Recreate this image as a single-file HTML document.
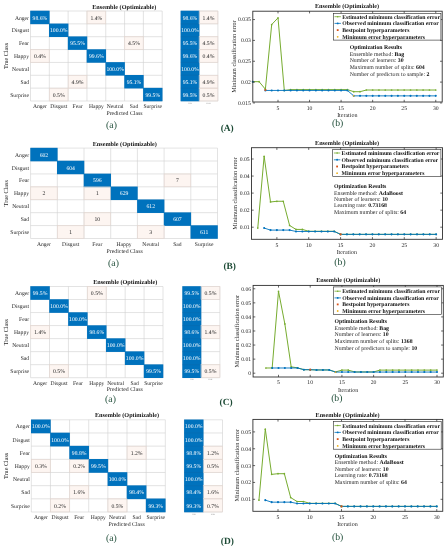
<!DOCTYPE html>
<html lang="en"><head><meta charset="utf-8"><title>Ensemble (Optimizable) results</title>
<style>
html,body{margin:0;padding:0;background:#fff;}
body{width:446px;height:550px;overflow:hidden;font-family:"Liberation Serif","Times New Roman",serif;}
svg{display:block;}
svg text{text-rendering:geometricPrecision;font-family:"Liberation Serif","Times New Roman",serif;}
</style></head><body>
<svg width="446" height="550" viewBox="0 0 446 550">
<rect x="0" y="0" width="446" height="550" fill="#ffffff"/>
<rect x="30.50" y="11.00" width="131.70" height="90.00" fill="#ffffff"/>
<rect x="86.94" y="11.00" width="18.81" height="12.86" fill="#fdf5f1"/>
<rect x="124.57" y="36.71" width="18.81" height="12.86" fill="#fdf5f1"/>
<rect x="30.50" y="49.57" width="18.81" height="12.86" fill="#fdf5f1"/>
<rect x="68.13" y="75.29" width="18.81" height="12.86" fill="#fdf5f1"/>
<rect x="49.31" y="88.14" width="18.81" height="12.86" fill="#fdf5f1"/>
<line x1="30.50" y1="11.00" x2="30.50" y2="101.00" stroke="#d0d0d0" stroke-width="0.6"/>
<line x1="30.50" y1="11.00" x2="162.20" y2="11.00" stroke="#d0d0d0" stroke-width="0.6"/>
<line x1="49.31" y1="11.00" x2="49.31" y2="101.00" stroke="#d0d0d0" stroke-width="0.6"/>
<line x1="30.50" y1="23.86" x2="162.20" y2="23.86" stroke="#d0d0d0" stroke-width="0.6"/>
<line x1="68.13" y1="11.00" x2="68.13" y2="101.00" stroke="#d0d0d0" stroke-width="0.6"/>
<line x1="30.50" y1="36.71" x2="162.20" y2="36.71" stroke="#d0d0d0" stroke-width="0.6"/>
<line x1="86.94" y1="11.00" x2="86.94" y2="101.00" stroke="#d0d0d0" stroke-width="0.6"/>
<line x1="30.50" y1="49.57" x2="162.20" y2="49.57" stroke="#d0d0d0" stroke-width="0.6"/>
<line x1="105.76" y1="11.00" x2="105.76" y2="101.00" stroke="#d0d0d0" stroke-width="0.6"/>
<line x1="30.50" y1="62.43" x2="162.20" y2="62.43" stroke="#d0d0d0" stroke-width="0.6"/>
<line x1="124.57" y1="11.00" x2="124.57" y2="101.00" stroke="#d0d0d0" stroke-width="0.6"/>
<line x1="30.50" y1="75.29" x2="162.20" y2="75.29" stroke="#d0d0d0" stroke-width="0.6"/>
<line x1="143.39" y1="11.00" x2="143.39" y2="101.00" stroke="#d0d0d0" stroke-width="0.6"/>
<line x1="30.50" y1="88.14" x2="162.20" y2="88.14" stroke="#d0d0d0" stroke-width="0.6"/>
<line x1="162.20" y1="11.00" x2="162.20" y2="101.00" stroke="#d0d0d0" stroke-width="0.6"/>
<line x1="30.50" y1="101.00" x2="162.20" y2="101.00" stroke="#d0d0d0" stroke-width="0.6"/>
<rect x="30.20" y="10.70" width="19.41" height="13.46" fill="#0072bd"/>
<rect x="49.01" y="23.56" width="19.41" height="13.46" fill="#0072bd"/>
<rect x="67.83" y="36.41" width="19.41" height="13.46" fill="#0072bd"/>
<rect x="86.64" y="49.27" width="19.41" height="13.46" fill="#0072bd"/>
<rect x="105.46" y="62.13" width="19.41" height="13.46" fill="#0072bd"/>
<rect x="124.27" y="74.99" width="19.41" height="13.46" fill="#0072bd"/>
<rect x="143.09" y="87.84" width="19.41" height="13.46" fill="#0072bd"/>
<rect x="86.94" y="11.00" width="18.81" height="12.86" fill="none" stroke="#e8d8d0" stroke-width="0.5"/>
<rect x="124.57" y="36.71" width="18.81" height="12.86" fill="none" stroke="#e8d8d0" stroke-width="0.5"/>
<rect x="30.50" y="49.57" width="18.81" height="12.86" fill="none" stroke="#e8d8d0" stroke-width="0.5"/>
<rect x="68.13" y="75.29" width="18.81" height="12.86" fill="none" stroke="#e8d8d0" stroke-width="0.5"/>
<rect x="49.31" y="88.14" width="18.81" height="12.86" fill="none" stroke="#e8d8d0" stroke-width="0.5"/>
<text x="39.91" y="19.53" font-size="5.7" text-anchor="middle" fill="#ffffff">98.6%</text>
<text x="96.35" y="19.53" font-size="5.7" text-anchor="middle" fill="#262626">1.4%</text>
<text x="58.72" y="32.39" font-size="5.7" text-anchor="middle" fill="#ffffff">100.0%</text>
<text x="77.54" y="45.24" font-size="5.7" text-anchor="middle" fill="#ffffff">95.5%</text>
<text x="133.98" y="45.24" font-size="5.7" text-anchor="middle" fill="#262626">4.5%</text>
<text x="39.91" y="58.10" font-size="5.7" text-anchor="middle" fill="#262626">0.4%</text>
<text x="96.35" y="58.10" font-size="5.7" text-anchor="middle" fill="#ffffff">99.6%</text>
<text x="115.16" y="70.96" font-size="5.7" text-anchor="middle" fill="#ffffff">100.0%</text>
<text x="77.54" y="83.81" font-size="5.7" text-anchor="middle" fill="#262626">4.9%</text>
<text x="133.98" y="83.81" font-size="5.7" text-anchor="middle" fill="#ffffff">95.1%</text>
<text x="58.72" y="96.67" font-size="5.7" text-anchor="middle" fill="#262626">0.5%</text>
<text x="152.79" y="96.67" font-size="5.7" text-anchor="middle" fill="#ffffff">99.5%</text>
<text x="29.00" y="19.53" font-size="5.65" text-anchor="end" fill="#262626">Anger</text>
<text x="39.91" y="108.40" font-size="5.6" text-anchor="middle" fill="#262626">Anger</text>
<text x="29.00" y="32.39" font-size="5.65" text-anchor="end" fill="#262626">Disgust</text>
<text x="58.72" y="108.40" font-size="5.6" text-anchor="middle" fill="#262626">Disgust</text>
<text x="29.00" y="45.24" font-size="5.65" text-anchor="end" fill="#262626">Fear</text>
<text x="77.54" y="108.40" font-size="5.6" text-anchor="middle" fill="#262626">Fear</text>
<text x="29.00" y="58.10" font-size="5.65" text-anchor="end" fill="#262626">Happy</text>
<text x="96.35" y="108.40" font-size="5.6" text-anchor="middle" fill="#262626">Happy</text>
<text x="29.00" y="70.96" font-size="5.65" text-anchor="end" fill="#262626">Neutral</text>
<text x="115.16" y="108.40" font-size="5.6" text-anchor="middle" fill="#262626">Neutral</text>
<text x="29.00" y="83.81" font-size="5.65" text-anchor="end" fill="#262626">Sad</text>
<text x="133.98" y="108.40" font-size="5.6" text-anchor="middle" fill="#262626">Sad</text>
<text x="29.00" y="96.67" font-size="5.65" text-anchor="end" fill="#262626">Surprise</text>
<text x="152.79" y="108.40" font-size="5.6" text-anchor="middle" fill="#262626">Surprise</text>
<text x="124.30" y="8.50" font-size="6.2" text-anchor="middle" font-weight="bold" fill="#111111">Ensemble (Optimizable)</text>
<text x="124.50" y="115.30" font-size="5.85" text-anchor="middle" fill="#262626">Predicted Class</text>
<text transform="translate(8.3,56.00) rotate(-90)" font-size="6.15" text-anchor="middle" fill="#262626">True Class</text>
<text x="111.50" y="127.85" font-size="9.7" text-anchor="middle" fill="#1c4a35">(a)</text>
<rect x="199.10" y="11.00" width="18.80" height="12.86" fill="#fdf5f1"/>
<rect x="199.10" y="23.86" width="18.80" height="12.86" fill="#ffffff"/>
<rect x="199.10" y="36.71" width="18.80" height="12.86" fill="#fdf5f1"/>
<rect x="199.10" y="49.57" width="18.80" height="12.86" fill="#fdf5f1"/>
<rect x="199.10" y="62.43" width="18.80" height="12.86" fill="#ffffff"/>
<rect x="199.10" y="75.29" width="18.80" height="12.86" fill="#fdf5f1"/>
<rect x="199.10" y="88.14" width="18.80" height="12.86" fill="#fdf5f1"/>
<line x1="180.90" y1="11.00" x2="217.90" y2="11.00" stroke="#d0d0d0" stroke-width="0.6"/>
<line x1="180.90" y1="23.86" x2="217.90" y2="23.86" stroke="#d0d0d0" stroke-width="0.6"/>
<line x1="180.90" y1="36.71" x2="217.90" y2="36.71" stroke="#d0d0d0" stroke-width="0.6"/>
<line x1="180.90" y1="49.57" x2="217.90" y2="49.57" stroke="#d0d0d0" stroke-width="0.6"/>
<line x1="180.90" y1="62.43" x2="217.90" y2="62.43" stroke="#d0d0d0" stroke-width="0.6"/>
<line x1="180.90" y1="75.29" x2="217.90" y2="75.29" stroke="#d0d0d0" stroke-width="0.6"/>
<line x1="180.90" y1="88.14" x2="217.90" y2="88.14" stroke="#d0d0d0" stroke-width="0.6"/>
<line x1="180.90" y1="101.00" x2="217.90" y2="101.00" stroke="#d0d0d0" stroke-width="0.6"/>
<line x1="180.90" y1="11.00" x2="180.90" y2="101.00" stroke="#d0d0d0" stroke-width="0.6"/>
<line x1="199.10" y1="11.00" x2="199.10" y2="101.00" stroke="#d0d0d0" stroke-width="0.6"/>
<line x1="217.90" y1="11.00" x2="217.90" y2="101.00" stroke="#d0d0d0" stroke-width="0.6"/>
<rect x="180.60" y="10.70" width="18.80" height="90.60" fill="#0072bd"/>
<line x1="180.90" y1="23.86" x2="199.10" y2="23.86" stroke="#0a67a8" stroke-width="0.4"/>
<line x1="180.90" y1="36.71" x2="199.10" y2="36.71" stroke="#0a67a8" stroke-width="0.4"/>
<line x1="180.90" y1="49.57" x2="199.10" y2="49.57" stroke="#0a67a8" stroke-width="0.4"/>
<line x1="180.90" y1="62.43" x2="199.10" y2="62.43" stroke="#0a67a8" stroke-width="0.4"/>
<line x1="180.90" y1="75.29" x2="199.10" y2="75.29" stroke="#0a67a8" stroke-width="0.4"/>
<line x1="180.90" y1="88.14" x2="199.10" y2="88.14" stroke="#0a67a8" stroke-width="0.4"/>
<rect x="199.10" y="11.00" width="18.80" height="12.86" fill="none" stroke="#e8d8d0" stroke-width="0.5"/>
<rect x="199.10" y="36.71" width="18.80" height="12.86" fill="none" stroke="#e8d8d0" stroke-width="0.5"/>
<rect x="199.10" y="49.57" width="18.80" height="12.86" fill="none" stroke="#e8d8d0" stroke-width="0.5"/>
<rect x="199.10" y="75.29" width="18.80" height="12.86" fill="none" stroke="#e8d8d0" stroke-width="0.5"/>
<rect x="199.10" y="88.14" width="18.80" height="12.86" fill="none" stroke="#e8d8d0" stroke-width="0.5"/>
<text x="190.00" y="19.53" font-size="5.7" text-anchor="middle" fill="#ffffff">98.6%</text>
<text x="208.50" y="19.53" font-size="5.7" text-anchor="middle" fill="#262626">1.4%</text>
<text x="190.00" y="32.39" font-size="5.7" text-anchor="middle" fill="#ffffff">100.0%</text>
<text x="190.00" y="45.24" font-size="5.7" text-anchor="middle" fill="#ffffff">95.5%</text>
<text x="208.50" y="45.24" font-size="5.7" text-anchor="middle" fill="#262626">4.5%</text>
<text x="190.00" y="58.10" font-size="5.7" text-anchor="middle" fill="#ffffff">99.6%</text>
<text x="208.50" y="58.10" font-size="5.7" text-anchor="middle" fill="#262626">0.4%</text>
<text x="190.00" y="70.96" font-size="5.7" text-anchor="middle" fill="#ffffff">100.0%</text>
<text x="190.00" y="83.81" font-size="5.7" text-anchor="middle" fill="#ffffff">95.1%</text>
<text x="208.50" y="83.81" font-size="5.7" text-anchor="middle" fill="#262626">4.9%</text>
<text x="190.00" y="96.67" font-size="5.7" text-anchor="middle" fill="#ffffff">99.5%</text>
<text x="208.50" y="96.67" font-size="5.7" text-anchor="middle" fill="#262626">0.5%</text>
<text x="190.00" y="103.60" font-size="2.1" text-anchor="middle" fill="#777777">TPR</text>
<text x="208.50" y="103.60" font-size="2.1" text-anchor="middle" fill="#777777">FNR</text>
<rect x="252.80" y="11.20" width="189.40" height="90.80" fill="#ffffff"/>
<polyline points="252.76,81.68 259.07,81.68 265.38,89.19 271.69,24.55 278.00,17.88 284.31,90.44 290.62,89.61 296.93,89.61 303.24,89.61 309.55,89.61 315.86,89.61 322.17,89.61 328.48,89.61 334.79,89.61 341.10,89.61 347.41,89.61 353.72,91.69 360.03,91.69 366.34,90.02 372.65,90.02 378.96,90.02 385.27,90.02 391.58,90.02 397.89,90.02 404.20,90.02 410.51,90.02 416.82,90.02 423.13,90.02 429.44,90.02 435.75,90.02" fill="none" stroke="#77ac30" stroke-width="1.0" stroke-linejoin="round"/>
<circle cx="252.76" cy="81.68" r="0.85" fill="#77ac30"/>
<circle cx="259.07" cy="81.68" r="0.85" fill="#77ac30"/>
<circle cx="265.38" cy="89.19" r="0.85" fill="#77ac30"/>
<circle cx="271.69" cy="24.55" r="0.85" fill="#77ac30"/>
<circle cx="278.00" cy="17.88" r="0.85" fill="#77ac30"/>
<circle cx="284.31" cy="90.44" r="0.85" fill="#77ac30"/>
<circle cx="290.62" cy="89.61" r="0.85" fill="#77ac30"/>
<circle cx="296.93" cy="89.61" r="0.85" fill="#77ac30"/>
<circle cx="303.24" cy="89.61" r="0.85" fill="#77ac30"/>
<circle cx="309.55" cy="89.61" r="0.85" fill="#77ac30"/>
<circle cx="315.86" cy="89.61" r="0.85" fill="#77ac30"/>
<circle cx="322.17" cy="89.61" r="0.85" fill="#77ac30"/>
<circle cx="328.48" cy="89.61" r="0.85" fill="#77ac30"/>
<circle cx="334.79" cy="89.61" r="0.85" fill="#77ac30"/>
<circle cx="341.10" cy="89.61" r="0.85" fill="#77ac30"/>
<circle cx="347.41" cy="89.61" r="0.85" fill="#77ac30"/>
<circle cx="353.72" cy="91.69" r="0.85" fill="#77ac30"/>
<circle cx="360.03" cy="91.69" r="0.85" fill="#77ac30"/>
<circle cx="366.34" cy="90.02" r="0.85" fill="#77ac30"/>
<circle cx="372.65" cy="90.02" r="0.85" fill="#77ac30"/>
<circle cx="378.96" cy="90.02" r="0.85" fill="#77ac30"/>
<circle cx="385.27" cy="90.02" r="0.85" fill="#77ac30"/>
<circle cx="391.58" cy="90.02" r="0.85" fill="#77ac30"/>
<circle cx="397.89" cy="90.02" r="0.85" fill="#77ac30"/>
<circle cx="404.20" cy="90.02" r="0.85" fill="#77ac30"/>
<circle cx="410.51" cy="90.02" r="0.85" fill="#77ac30"/>
<circle cx="416.82" cy="90.02" r="0.85" fill="#77ac30"/>
<circle cx="423.13" cy="90.02" r="0.85" fill="#77ac30"/>
<circle cx="429.44" cy="90.02" r="0.85" fill="#77ac30"/>
<circle cx="435.75" cy="90.02" r="0.85" fill="#77ac30"/>
<polyline points="252.76,81.68" fill="none" stroke="#0072bd" stroke-width="0.9" stroke-linejoin="round"/>
<circle cx="252.76" cy="81.68" r="1.05" fill="#0072bd"/>
<polyline points="265.38,90.44 271.69,90.44 278.00,90.44 284.31,90.44 290.62,90.44 296.93,90.44 303.24,90.44 309.55,90.44 315.86,90.44 322.17,90.44 328.48,90.44 334.79,90.44 341.10,90.44 347.41,90.44 353.72,95.86 360.03,95.86 366.34,95.86 372.65,95.86 378.96,95.86 385.27,95.86 391.58,95.86 397.89,95.86 404.20,95.86 410.51,95.86 416.82,95.86 423.13,95.86 429.44,95.86 435.75,95.86" fill="none" stroke="#0072bd" stroke-width="0.9" stroke-linejoin="round"/>
<circle cx="265.38" cy="90.44" r="1.05" fill="#0072bd"/>
<circle cx="271.69" cy="90.44" r="1.05" fill="#0072bd"/>
<circle cx="278.00" cy="90.44" r="1.05" fill="#0072bd"/>
<circle cx="284.31" cy="90.44" r="1.05" fill="#0072bd"/>
<circle cx="290.62" cy="90.44" r="1.05" fill="#0072bd"/>
<circle cx="296.93" cy="90.44" r="1.05" fill="#0072bd"/>
<circle cx="303.24" cy="90.44" r="1.05" fill="#0072bd"/>
<circle cx="309.55" cy="90.44" r="1.05" fill="#0072bd"/>
<circle cx="315.86" cy="90.44" r="1.05" fill="#0072bd"/>
<circle cx="322.17" cy="90.44" r="1.05" fill="#0072bd"/>
<circle cx="328.48" cy="90.44" r="1.05" fill="#0072bd"/>
<circle cx="334.79" cy="90.44" r="1.05" fill="#0072bd"/>
<circle cx="341.10" cy="90.44" r="1.05" fill="#0072bd"/>
<circle cx="347.41" cy="90.44" r="1.05" fill="#0072bd"/>
<circle cx="353.72" cy="95.86" r="1.05" fill="#0072bd"/>
<circle cx="360.03" cy="95.86" r="1.05" fill="#0072bd"/>
<circle cx="366.34" cy="95.86" r="1.05" fill="#0072bd"/>
<circle cx="372.65" cy="95.86" r="1.05" fill="#0072bd"/>
<circle cx="378.96" cy="95.86" r="1.05" fill="#0072bd"/>
<circle cx="385.27" cy="95.86" r="1.05" fill="#0072bd"/>
<circle cx="391.58" cy="95.86" r="1.05" fill="#0072bd"/>
<circle cx="397.89" cy="95.86" r="1.05" fill="#0072bd"/>
<circle cx="404.20" cy="95.86" r="1.05" fill="#0072bd"/>
<circle cx="410.51" cy="95.86" r="1.05" fill="#0072bd"/>
<circle cx="416.82" cy="95.86" r="1.05" fill="#0072bd"/>
<circle cx="423.13" cy="95.86" r="1.05" fill="#0072bd"/>
<circle cx="429.44" cy="95.86" r="1.05" fill="#0072bd"/>
<circle cx="435.75" cy="95.86" r="1.05" fill="#0072bd"/>
<circle cx="353.72" cy="95.86" r="0.9" fill="#edb120"/>
<rect x="264.48" y="89.12" width="1.80" height="1.80" fill="#d95319"/>
<rect x="252.80" y="11.20" width="189.40" height="90.80" fill="none" stroke="#303030" stroke-width="0.9"/>
<line x1="278.00" y1="102.00" x2="278.00" y2="99.80" stroke="#262626" stroke-width="0.7"/>
<line x1="278.00" y1="11.20" x2="278.00" y2="13.40" stroke="#262626" stroke-width="0.7"/>
<text x="278.00" y="109.65" font-size="5.7" text-anchor="middle" fill="#262626">5</text>
<line x1="309.55" y1="102.00" x2="309.55" y2="99.80" stroke="#262626" stroke-width="0.7"/>
<line x1="309.55" y1="11.20" x2="309.55" y2="13.40" stroke="#262626" stroke-width="0.7"/>
<text x="309.55" y="109.65" font-size="5.7" text-anchor="middle" fill="#262626">10</text>
<line x1="341.10" y1="102.00" x2="341.10" y2="99.80" stroke="#262626" stroke-width="0.7"/>
<line x1="341.10" y1="11.20" x2="341.10" y2="13.40" stroke="#262626" stroke-width="0.7"/>
<text x="341.10" y="109.65" font-size="5.7" text-anchor="middle" fill="#262626">15</text>
<line x1="372.65" y1="102.00" x2="372.65" y2="99.80" stroke="#262626" stroke-width="0.7"/>
<line x1="372.65" y1="11.20" x2="372.65" y2="13.40" stroke="#262626" stroke-width="0.7"/>
<text x="372.65" y="109.65" font-size="5.7" text-anchor="middle" fill="#262626">20</text>
<line x1="404.20" y1="102.00" x2="404.20" y2="99.80" stroke="#262626" stroke-width="0.7"/>
<line x1="404.20" y1="11.20" x2="404.20" y2="13.40" stroke="#262626" stroke-width="0.7"/>
<text x="404.20" y="109.65" font-size="5.7" text-anchor="middle" fill="#262626">25</text>
<line x1="435.75" y1="102.00" x2="435.75" y2="99.80" stroke="#262626" stroke-width="0.7"/>
<line x1="435.75" y1="11.20" x2="435.75" y2="13.40" stroke="#262626" stroke-width="0.7"/>
<text x="435.75" y="109.65" font-size="5.7" text-anchor="middle" fill="#262626">30</text>
<line x1="252.80" y1="19.55" x2="255.00" y2="19.55" stroke="#262626" stroke-width="0.7"/>
<line x1="442.20" y1="19.55" x2="440.00" y2="19.55" stroke="#262626" stroke-width="0.7"/>
<text x="250.90" y="21.45" font-size="5.7" text-anchor="end" fill="#262626">0.035</text>
<line x1="252.80" y1="40.40" x2="255.00" y2="40.40" stroke="#262626" stroke-width="0.7"/>
<line x1="442.20" y1="40.40" x2="440.00" y2="40.40" stroke="#262626" stroke-width="0.7"/>
<text x="250.90" y="42.30" font-size="5.7" text-anchor="end" fill="#262626">0.03</text>
<line x1="252.80" y1="61.25" x2="255.00" y2="61.25" stroke="#262626" stroke-width="0.7"/>
<line x1="442.20" y1="61.25" x2="440.00" y2="61.25" stroke="#262626" stroke-width="0.7"/>
<text x="250.90" y="63.15" font-size="5.7" text-anchor="end" fill="#262626">0.025</text>
<line x1="252.80" y1="82.10" x2="255.00" y2="82.10" stroke="#262626" stroke-width="0.7"/>
<line x1="442.20" y1="82.10" x2="440.00" y2="82.10" stroke="#262626" stroke-width="0.7"/>
<text x="250.90" y="84.00" font-size="5.7" text-anchor="end" fill="#262626">0.02</text>
<line x1="252.80" y1="102.95" x2="255.00" y2="102.95" stroke="#262626" stroke-width="0.7"/>
<line x1="442.20" y1="102.95" x2="440.00" y2="102.95" stroke="#262626" stroke-width="0.7"/>
<text x="250.90" y="104.85" font-size="5.7" text-anchor="end" fill="#262626">0.015</text>
<text transform="translate(236.40,56.60) rotate(-90)" font-size="6.2" text-anchor="middle" fill="#262626">Minimum classification error</text>
<text x="347.00" y="8.30" font-size="6.2" text-anchor="middle" font-weight="bold" fill="#111111">Ensemble (Optimizable)</text>
<text x="347.30" y="116.80" font-size="6.0" text-anchor="middle" fill="#262626">Iteration</text>
<text x="337.70" y="126.40" font-size="9.7" text-anchor="middle" fill="#1c4a35">(b)</text>
<rect x="333.30" y="13.30" width="107.60" height="26.80" fill="#ffffff" stroke="#262626" stroke-width="0.6"/>
<line x1="334.50" y1="16.70" x2="340.90" y2="16.70" stroke="#77ac30" stroke-width="0.8"/>
<circle cx="337.70" cy="16.70" r="0.75" fill="#77ac30"/>
<text x="342.20" y="18.60" font-size="5.75" text-anchor="start" font-weight="bold" fill="#111111">Estimated minimum classification error</text>
<line x1="334.50" y1="23.40" x2="340.90" y2="23.40" stroke="#0072bd" stroke-width="0.8"/>
<circle cx="337.70" cy="23.40" r="0.95" fill="#0072bd"/>
<text x="342.20" y="25.30" font-size="5.75" text-anchor="start" font-weight="bold" fill="#111111">Observed minimum classification error</text>
<rect x="336.80" y="29.20" width="1.80" height="1.80" fill="#d95319"/>
<text x="342.20" y="32.00" font-size="5.75" text-anchor="start" font-weight="bold" fill="#111111">Bestpoint hyperparameters</text>
<circle cx="337.70" cy="36.80" r="0.9" fill="#edb120"/>
<text x="342.20" y="38.70" font-size="5.75" text-anchor="start" font-weight="bold" fill="#111111">Minimum error hyperparameters</text>
<text x="349.70" y="48.90" font-size="5.8" text-anchor="start" font-weight="bold" fill="#111111">Optimization Results</text>
<text x="349.70" y="55.60" font-size="5.8" text-anchor="start" fill="#262626">Ensemble method: <tspan font-weight="bold" fill="#111111">Bag</tspan></text>
<text x="349.70" y="62.30" font-size="5.8" text-anchor="start" fill="#262626">Number of learners: <tspan font-weight="bold" fill="#111111">30</tspan></text>
<text x="349.70" y="69.00" font-size="5.8" text-anchor="start" fill="#262626">Maximum number of splits: <tspan font-weight="bold" fill="#111111">604</tspan></text>
<text x="349.70" y="75.70" font-size="5.8" text-anchor="start" fill="#262626">Number of predictors to sample: <tspan font-weight="bold" fill="#111111">2</tspan></text>
<text x="227.20" y="130.80" font-size="9.4" text-anchor="middle" font-weight="bold" fill="#1c4a35">(A)</text>
<rect x="30.60" y="148.10" width="186.90" height="90.40" fill="#ffffff"/>
<rect x="164.10" y="173.93" width="26.70" height="12.91" fill="#fdf5f1"/>
<rect x="30.60" y="186.84" width="26.70" height="12.91" fill="#fdf5f1"/>
<rect x="84.00" y="186.84" width="26.70" height="12.91" fill="#fdf5f1"/>
<rect x="84.00" y="212.67" width="26.70" height="12.91" fill="#fdf5f1"/>
<rect x="57.30" y="225.59" width="26.70" height="12.91" fill="#fdf5f1"/>
<rect x="137.40" y="225.59" width="26.70" height="12.91" fill="#fdf5f1"/>
<line x1="30.60" y1="148.10" x2="30.60" y2="238.50" stroke="#d0d0d0" stroke-width="0.6"/>
<line x1="30.60" y1="148.10" x2="217.50" y2="148.10" stroke="#d0d0d0" stroke-width="0.6"/>
<line x1="57.30" y1="148.10" x2="57.30" y2="238.50" stroke="#d0d0d0" stroke-width="0.6"/>
<line x1="30.60" y1="161.01" x2="217.50" y2="161.01" stroke="#d0d0d0" stroke-width="0.6"/>
<line x1="84.00" y1="148.10" x2="84.00" y2="238.50" stroke="#d0d0d0" stroke-width="0.6"/>
<line x1="30.60" y1="173.93" x2="217.50" y2="173.93" stroke="#d0d0d0" stroke-width="0.6"/>
<line x1="110.70" y1="148.10" x2="110.70" y2="238.50" stroke="#d0d0d0" stroke-width="0.6"/>
<line x1="30.60" y1="186.84" x2="217.50" y2="186.84" stroke="#d0d0d0" stroke-width="0.6"/>
<line x1="137.40" y1="148.10" x2="137.40" y2="238.50" stroke="#d0d0d0" stroke-width="0.6"/>
<line x1="30.60" y1="199.76" x2="217.50" y2="199.76" stroke="#d0d0d0" stroke-width="0.6"/>
<line x1="164.10" y1="148.10" x2="164.10" y2="238.50" stroke="#d0d0d0" stroke-width="0.6"/>
<line x1="30.60" y1="212.67" x2="217.50" y2="212.67" stroke="#d0d0d0" stroke-width="0.6"/>
<line x1="190.80" y1="148.10" x2="190.80" y2="238.50" stroke="#d0d0d0" stroke-width="0.6"/>
<line x1="30.60" y1="225.59" x2="217.50" y2="225.59" stroke="#d0d0d0" stroke-width="0.6"/>
<line x1="217.50" y1="148.10" x2="217.50" y2="238.50" stroke="#d0d0d0" stroke-width="0.6"/>
<line x1="30.60" y1="238.50" x2="217.50" y2="238.50" stroke="#d0d0d0" stroke-width="0.6"/>
<rect x="30.30" y="147.80" width="27.30" height="13.51" fill="#0072bd"/>
<rect x="57.00" y="160.71" width="27.30" height="13.51" fill="#0072bd"/>
<rect x="83.70" y="173.63" width="27.30" height="13.51" fill="#0072bd"/>
<rect x="110.40" y="186.54" width="27.30" height="13.51" fill="#0072bd"/>
<rect x="137.10" y="199.46" width="27.30" height="13.51" fill="#0072bd"/>
<rect x="163.80" y="212.37" width="27.30" height="13.51" fill="#0072bd"/>
<rect x="190.50" y="225.29" width="27.30" height="13.51" fill="#0072bd"/>
<rect x="164.10" y="173.93" width="26.70" height="12.91" fill="none" stroke="#e8d8d0" stroke-width="0.5"/>
<rect x="30.60" y="186.84" width="26.70" height="12.91" fill="none" stroke="#e8d8d0" stroke-width="0.5"/>
<rect x="84.00" y="186.84" width="26.70" height="12.91" fill="none" stroke="#e8d8d0" stroke-width="0.5"/>
<rect x="84.00" y="212.67" width="26.70" height="12.91" fill="none" stroke="#e8d8d0" stroke-width="0.5"/>
<rect x="57.30" y="225.59" width="26.70" height="12.91" fill="none" stroke="#e8d8d0" stroke-width="0.5"/>
<rect x="137.40" y="225.59" width="26.70" height="12.91" fill="none" stroke="#e8d8d0" stroke-width="0.5"/>
<text x="43.95" y="156.66" font-size="5.7" text-anchor="middle" fill="#ffffff">602</text>
<text x="70.65" y="169.57" font-size="5.7" text-anchor="middle" fill="#ffffff">604</text>
<text x="97.35" y="182.49" font-size="5.7" text-anchor="middle" fill="#ffffff">596</text>
<text x="177.45" y="182.49" font-size="5.7" text-anchor="middle" fill="#262626">7</text>
<text x="43.95" y="195.40" font-size="5.7" text-anchor="middle" fill="#262626">2</text>
<text x="97.35" y="195.40" font-size="5.7" text-anchor="middle" fill="#262626">1</text>
<text x="124.05" y="195.40" font-size="5.7" text-anchor="middle" fill="#ffffff">629</text>
<text x="150.75" y="208.31" font-size="5.7" text-anchor="middle" fill="#ffffff">612</text>
<text x="97.35" y="221.23" font-size="5.7" text-anchor="middle" fill="#262626">10</text>
<text x="177.45" y="221.23" font-size="5.7" text-anchor="middle" fill="#ffffff">607</text>
<text x="70.65" y="234.14" font-size="5.7" text-anchor="middle" fill="#262626">1</text>
<text x="150.75" y="234.14" font-size="5.7" text-anchor="middle" fill="#262626">3</text>
<text x="204.15" y="234.14" font-size="5.7" text-anchor="middle" fill="#ffffff">611</text>
<text x="29.10" y="156.66" font-size="5.65" text-anchor="end" fill="#262626">Anger</text>
<text x="43.95" y="245.65" font-size="5.6" text-anchor="middle" fill="#262626">Anger</text>
<text x="29.10" y="169.57" font-size="5.65" text-anchor="end" fill="#262626">Disgust</text>
<text x="70.65" y="245.65" font-size="5.6" text-anchor="middle" fill="#262626">Disgust</text>
<text x="29.10" y="182.49" font-size="5.65" text-anchor="end" fill="#262626">Fear</text>
<text x="97.35" y="245.65" font-size="5.6" text-anchor="middle" fill="#262626">Fear</text>
<text x="29.10" y="195.40" font-size="5.65" text-anchor="end" fill="#262626">Happy</text>
<text x="124.05" y="245.65" font-size="5.6" text-anchor="middle" fill="#262626">Happy</text>
<text x="29.10" y="208.31" font-size="5.65" text-anchor="end" fill="#262626">Neutral</text>
<text x="150.75" y="245.65" font-size="5.6" text-anchor="middle" fill="#262626">Neutral</text>
<text x="29.10" y="221.23" font-size="5.65" text-anchor="end" fill="#262626">Sad</text>
<text x="177.45" y="245.65" font-size="5.6" text-anchor="middle" fill="#262626">Sad</text>
<text x="29.10" y="234.14" font-size="5.65" text-anchor="end" fill="#262626">Surprise</text>
<text x="204.15" y="245.65" font-size="5.6" text-anchor="middle" fill="#262626">Surprise</text>
<text x="124.80" y="145.80" font-size="6.2" text-anchor="middle" font-weight="bold" fill="#111111">Ensemble (Optimizable)</text>
<text x="124.60" y="253.05" font-size="5.85" text-anchor="middle" fill="#262626">Predicted Class</text>
<text transform="translate(8.3,193.30) rotate(-90)" font-size="6.15" text-anchor="middle" fill="#262626">True Class</text>
<text x="113.50" y="265.75" font-size="9.7" text-anchor="middle" fill="#1c4a35">(a)</text>
<rect x="251.50" y="147.70" width="191.00" height="91.60" fill="#ffffff"/>
<polyline points="257.77,228.05 264.14,156.27 270.51,201.97 276.88,201.28 283.25,201.28 289.62,225.49 295.99,229.42 302.36,229.42 308.73,231.29 315.10,231.29 321.47,231.29 327.84,231.29 334.21,231.29 340.58,234.36 346.95,234.36 353.32,234.36 359.69,234.36 366.06,234.36 372.43,234.36 378.80,234.36 385.17,234.36 391.54,234.36 397.91,234.36 404.28,234.36 410.65,234.36 417.02,234.36 423.39,234.36 429.76,234.36 436.13,234.36" fill="none" stroke="#77ac30" stroke-width="1.0" stroke-linejoin="round"/>
<circle cx="257.77" cy="228.05" r="0.85" fill="#77ac30"/>
<circle cx="264.14" cy="156.27" r="0.85" fill="#77ac30"/>
<circle cx="270.51" cy="201.97" r="0.85" fill="#77ac30"/>
<circle cx="276.88" cy="201.28" r="0.85" fill="#77ac30"/>
<circle cx="283.25" cy="201.28" r="0.85" fill="#77ac30"/>
<circle cx="289.62" cy="225.49" r="0.85" fill="#77ac30"/>
<circle cx="295.99" cy="229.42" r="0.85" fill="#77ac30"/>
<circle cx="302.36" cy="229.42" r="0.85" fill="#77ac30"/>
<circle cx="308.73" cy="231.29" r="0.85" fill="#77ac30"/>
<circle cx="315.10" cy="231.29" r="0.85" fill="#77ac30"/>
<circle cx="321.47" cy="231.29" r="0.85" fill="#77ac30"/>
<circle cx="327.84" cy="231.29" r="0.85" fill="#77ac30"/>
<circle cx="334.21" cy="231.29" r="0.85" fill="#77ac30"/>
<circle cx="340.58" cy="234.36" r="0.85" fill="#77ac30"/>
<circle cx="346.95" cy="234.36" r="0.85" fill="#77ac30"/>
<circle cx="353.32" cy="234.36" r="0.85" fill="#77ac30"/>
<circle cx="359.69" cy="234.36" r="0.85" fill="#77ac30"/>
<circle cx="366.06" cy="234.36" r="0.85" fill="#77ac30"/>
<circle cx="372.43" cy="234.36" r="0.85" fill="#77ac30"/>
<circle cx="378.80" cy="234.36" r="0.85" fill="#77ac30"/>
<circle cx="385.17" cy="234.36" r="0.85" fill="#77ac30"/>
<circle cx="391.54" cy="234.36" r="0.85" fill="#77ac30"/>
<circle cx="397.91" cy="234.36" r="0.85" fill="#77ac30"/>
<circle cx="404.28" cy="234.36" r="0.85" fill="#77ac30"/>
<circle cx="410.65" cy="234.36" r="0.85" fill="#77ac30"/>
<circle cx="417.02" cy="234.36" r="0.85" fill="#77ac30"/>
<circle cx="423.39" cy="234.36" r="0.85" fill="#77ac30"/>
<circle cx="429.76" cy="234.36" r="0.85" fill="#77ac30"/>
<circle cx="436.13" cy="234.36" r="0.85" fill="#77ac30"/>
<polyline points="264.14,228.05 270.51,230.10 276.88,230.10 283.25,230.10 289.62,230.10 295.99,231.46 302.36,231.46 308.73,231.46 315.10,231.46 321.47,231.46 327.84,231.46 334.21,231.46 340.58,234.36 346.95,234.36 353.32,234.36 359.69,234.36 366.06,234.36 372.43,234.36 378.80,234.36 385.17,234.36 391.54,234.36 397.91,234.36 404.28,234.36 410.65,234.36 417.02,234.36 423.39,234.36 429.76,234.36 436.13,234.36" fill="none" stroke="#0072bd" stroke-width="0.9" stroke-linejoin="round"/>
<circle cx="264.14" cy="228.05" r="1.05" fill="#0072bd"/>
<circle cx="270.51" cy="230.10" r="1.05" fill="#0072bd"/>
<circle cx="276.88" cy="230.10" r="1.05" fill="#0072bd"/>
<circle cx="283.25" cy="230.10" r="1.05" fill="#0072bd"/>
<circle cx="289.62" cy="230.10" r="1.05" fill="#0072bd"/>
<circle cx="295.99" cy="231.46" r="1.05" fill="#0072bd"/>
<circle cx="302.36" cy="231.46" r="1.05" fill="#0072bd"/>
<circle cx="308.73" cy="231.46" r="1.05" fill="#0072bd"/>
<circle cx="315.10" cy="231.46" r="1.05" fill="#0072bd"/>
<circle cx="321.47" cy="231.46" r="1.05" fill="#0072bd"/>
<circle cx="327.84" cy="231.46" r="1.05" fill="#0072bd"/>
<circle cx="334.21" cy="231.46" r="1.05" fill="#0072bd"/>
<circle cx="340.58" cy="234.36" r="1.05" fill="#0072bd"/>
<circle cx="346.95" cy="234.36" r="1.05" fill="#0072bd"/>
<circle cx="353.32" cy="234.36" r="1.05" fill="#0072bd"/>
<circle cx="359.69" cy="234.36" r="1.05" fill="#0072bd"/>
<circle cx="366.06" cy="234.36" r="1.05" fill="#0072bd"/>
<circle cx="372.43" cy="234.36" r="1.05" fill="#0072bd"/>
<circle cx="378.80" cy="234.36" r="1.05" fill="#0072bd"/>
<circle cx="385.17" cy="234.36" r="1.05" fill="#0072bd"/>
<circle cx="391.54" cy="234.36" r="1.05" fill="#0072bd"/>
<circle cx="397.91" cy="234.36" r="1.05" fill="#0072bd"/>
<circle cx="404.28" cy="234.36" r="1.05" fill="#0072bd"/>
<circle cx="410.65" cy="234.36" r="1.05" fill="#0072bd"/>
<circle cx="417.02" cy="234.36" r="1.05" fill="#0072bd"/>
<circle cx="423.39" cy="234.36" r="1.05" fill="#0072bd"/>
<circle cx="429.76" cy="234.36" r="1.05" fill="#0072bd"/>
<circle cx="436.13" cy="234.36" r="1.05" fill="#0072bd"/>
<circle cx="340.58" cy="234.36" r="0.9" fill="#edb120"/>
<rect x="339.68" y="233.46" width="1.80" height="1.80" fill="#d95319"/>
<rect x="251.50" y="147.70" width="191.00" height="91.60" fill="none" stroke="#303030" stroke-width="0.9"/>
<line x1="276.88" y1="239.30" x2="276.88" y2="237.10" stroke="#262626" stroke-width="0.7"/>
<line x1="276.88" y1="147.70" x2="276.88" y2="149.90" stroke="#262626" stroke-width="0.7"/>
<text x="276.88" y="246.70" font-size="5.7" text-anchor="middle" fill="#262626">5</text>
<line x1="308.73" y1="239.30" x2="308.73" y2="237.10" stroke="#262626" stroke-width="0.7"/>
<line x1="308.73" y1="147.70" x2="308.73" y2="149.90" stroke="#262626" stroke-width="0.7"/>
<text x="308.73" y="246.70" font-size="5.7" text-anchor="middle" fill="#262626">10</text>
<line x1="340.58" y1="239.30" x2="340.58" y2="237.10" stroke="#262626" stroke-width="0.7"/>
<line x1="340.58" y1="147.70" x2="340.58" y2="149.90" stroke="#262626" stroke-width="0.7"/>
<text x="340.58" y="246.70" font-size="5.7" text-anchor="middle" fill="#262626">15</text>
<line x1="372.43" y1="239.30" x2="372.43" y2="237.10" stroke="#262626" stroke-width="0.7"/>
<line x1="372.43" y1="147.70" x2="372.43" y2="149.90" stroke="#262626" stroke-width="0.7"/>
<text x="372.43" y="246.70" font-size="5.7" text-anchor="middle" fill="#262626">20</text>
<line x1="404.28" y1="239.30" x2="404.28" y2="237.10" stroke="#262626" stroke-width="0.7"/>
<line x1="404.28" y1="147.70" x2="404.28" y2="149.90" stroke="#262626" stroke-width="0.7"/>
<text x="404.28" y="246.70" font-size="5.7" text-anchor="middle" fill="#262626">25</text>
<line x1="436.13" y1="239.30" x2="436.13" y2="237.10" stroke="#262626" stroke-width="0.7"/>
<line x1="436.13" y1="147.70" x2="436.13" y2="149.90" stroke="#262626" stroke-width="0.7"/>
<text x="436.13" y="246.70" font-size="5.7" text-anchor="middle" fill="#262626">30</text>
<line x1="251.50" y1="159.00" x2="253.70" y2="159.00" stroke="#262626" stroke-width="0.7"/>
<line x1="442.50" y1="159.00" x2="440.30" y2="159.00" stroke="#262626" stroke-width="0.7"/>
<text x="249.60" y="160.90" font-size="5.7" text-anchor="end" fill="#262626">0.05</text>
<line x1="251.50" y1="176.05" x2="253.70" y2="176.05" stroke="#262626" stroke-width="0.7"/>
<line x1="442.50" y1="176.05" x2="440.30" y2="176.05" stroke="#262626" stroke-width="0.7"/>
<text x="249.60" y="177.95" font-size="5.7" text-anchor="end" fill="#262626">0.04</text>
<line x1="251.50" y1="193.10" x2="253.70" y2="193.10" stroke="#262626" stroke-width="0.7"/>
<line x1="442.50" y1="193.10" x2="440.30" y2="193.10" stroke="#262626" stroke-width="0.7"/>
<text x="249.60" y="195.00" font-size="5.7" text-anchor="end" fill="#262626">0.03</text>
<line x1="251.50" y1="210.15" x2="253.70" y2="210.15" stroke="#262626" stroke-width="0.7"/>
<line x1="442.50" y1="210.15" x2="440.30" y2="210.15" stroke="#262626" stroke-width="0.7"/>
<text x="249.60" y="212.05" font-size="5.7" text-anchor="end" fill="#262626">0.02</text>
<line x1="251.50" y1="227.20" x2="253.70" y2="227.20" stroke="#262626" stroke-width="0.7"/>
<line x1="442.50" y1="227.20" x2="440.30" y2="227.20" stroke="#262626" stroke-width="0.7"/>
<text x="249.60" y="229.10" font-size="5.7" text-anchor="end" fill="#262626">0.01</text>
<text transform="translate(237.10,193.50) rotate(-90)" font-size="6.2" text-anchor="middle" fill="#262626">Minimum classification error</text>
<text x="347.10" y="145.10" font-size="6.2" text-anchor="middle" font-weight="bold" fill="#111111">Ensemble (Optimizable)</text>
<text x="346.80" y="254.10" font-size="6.0" text-anchor="middle" fill="#262626">Iteration</text>
<text x="340.00" y="264.70" font-size="9.7" text-anchor="middle" fill="#1c4a35">(b)</text>
<rect x="332.70" y="149.60" width="108.20" height="26.90" fill="#ffffff" stroke="#262626" stroke-width="0.6"/>
<line x1="333.90" y1="153.00" x2="340.30" y2="153.00" stroke="#77ac30" stroke-width="0.8"/>
<circle cx="337.10" cy="153.00" r="0.75" fill="#77ac30"/>
<text x="341.60" y="154.90" font-size="5.75" text-anchor="start" font-weight="bold" fill="#111111">Estimated minimum classification error</text>
<line x1="333.90" y1="159.80" x2="340.30" y2="159.80" stroke="#0072bd" stroke-width="0.8"/>
<circle cx="337.10" cy="159.80" r="0.95" fill="#0072bd"/>
<text x="341.60" y="161.70" font-size="5.75" text-anchor="start" font-weight="bold" fill="#111111">Observed minimum classification error</text>
<rect x="336.20" y="165.60" width="1.80" height="1.80" fill="#d95319"/>
<text x="341.60" y="168.40" font-size="5.75" text-anchor="start" font-weight="bold" fill="#111111">Bestpoint hyperparameters</text>
<circle cx="337.10" cy="173.20" r="0.9" fill="#edb120"/>
<text x="341.60" y="175.10" font-size="5.75" text-anchor="start" font-weight="bold" fill="#111111">Minimum error hyperparameters</text>
<text x="334.00" y="188.10" font-size="5.8" text-anchor="start" font-weight="bold" fill="#111111">Optimization Results</text>
<text x="334.00" y="194.60" font-size="5.8" text-anchor="start" fill="#262626">Ensemble method: <tspan font-weight="bold" fill="#111111">AdaBoost</tspan></text>
<text x="334.00" y="201.10" font-size="5.8" text-anchor="start" fill="#262626">Number of learners: <tspan font-weight="bold" fill="#111111">10</tspan></text>
<text x="334.00" y="207.40" font-size="5.8" text-anchor="start" fill="#262626">Learning rate: <tspan font-weight="bold" fill="#111111">0.73168</tspan></text>
<text x="334.00" y="213.70" font-size="5.8" text-anchor="start" fill="#262626">Maximum number of splits: <tspan font-weight="bold" fill="#111111">64</tspan></text>
<text x="229.70" y="268.90" font-size="9.4" text-anchor="middle" font-weight="bold" fill="#1c4a35">(B)</text>
<rect x="30.60" y="286.50" width="132.40" height="91.20" fill="#ffffff"/>
<rect x="87.34" y="286.50" width="18.91" height="13.03" fill="#fdf5f1"/>
<rect x="30.60" y="325.59" width="18.91" height="13.03" fill="#fdf5f1"/>
<rect x="49.51" y="364.67" width="18.91" height="13.03" fill="#fdf5f1"/>
<line x1="30.60" y1="286.50" x2="30.60" y2="377.70" stroke="#d0d0d0" stroke-width="0.6"/>
<line x1="30.60" y1="286.50" x2="163.00" y2="286.50" stroke="#d0d0d0" stroke-width="0.6"/>
<line x1="49.51" y1="286.50" x2="49.51" y2="377.70" stroke="#d0d0d0" stroke-width="0.6"/>
<line x1="30.60" y1="299.53" x2="163.00" y2="299.53" stroke="#d0d0d0" stroke-width="0.6"/>
<line x1="68.43" y1="286.50" x2="68.43" y2="377.70" stroke="#d0d0d0" stroke-width="0.6"/>
<line x1="30.60" y1="312.56" x2="163.00" y2="312.56" stroke="#d0d0d0" stroke-width="0.6"/>
<line x1="87.34" y1="286.50" x2="87.34" y2="377.70" stroke="#d0d0d0" stroke-width="0.6"/>
<line x1="30.60" y1="325.59" x2="163.00" y2="325.59" stroke="#d0d0d0" stroke-width="0.6"/>
<line x1="106.26" y1="286.50" x2="106.26" y2="377.70" stroke="#d0d0d0" stroke-width="0.6"/>
<line x1="30.60" y1="338.61" x2="163.00" y2="338.61" stroke="#d0d0d0" stroke-width="0.6"/>
<line x1="125.17" y1="286.50" x2="125.17" y2="377.70" stroke="#d0d0d0" stroke-width="0.6"/>
<line x1="30.60" y1="351.64" x2="163.00" y2="351.64" stroke="#d0d0d0" stroke-width="0.6"/>
<line x1="144.09" y1="286.50" x2="144.09" y2="377.70" stroke="#d0d0d0" stroke-width="0.6"/>
<line x1="30.60" y1="364.67" x2="163.00" y2="364.67" stroke="#d0d0d0" stroke-width="0.6"/>
<line x1="163.00" y1="286.50" x2="163.00" y2="377.70" stroke="#d0d0d0" stroke-width="0.6"/>
<line x1="30.60" y1="377.70" x2="163.00" y2="377.70" stroke="#d0d0d0" stroke-width="0.6"/>
<rect x="30.30" y="286.20" width="19.51" height="13.63" fill="#0072bd"/>
<rect x="49.21" y="299.23" width="19.51" height="13.63" fill="#0072bd"/>
<rect x="68.13" y="312.26" width="19.51" height="13.63" fill="#0072bd"/>
<rect x="87.04" y="325.29" width="19.51" height="13.63" fill="#0072bd"/>
<rect x="105.96" y="338.31" width="19.51" height="13.63" fill="#0072bd"/>
<rect x="124.87" y="351.34" width="19.51" height="13.63" fill="#0072bd"/>
<rect x="143.79" y="364.37" width="19.51" height="13.63" fill="#0072bd"/>
<rect x="87.34" y="286.50" width="18.91" height="13.03" fill="none" stroke="#e8d8d0" stroke-width="0.5"/>
<rect x="30.60" y="325.59" width="18.91" height="13.03" fill="none" stroke="#e8d8d0" stroke-width="0.5"/>
<rect x="49.51" y="364.67" width="18.91" height="13.03" fill="none" stroke="#e8d8d0" stroke-width="0.5"/>
<text x="40.06" y="295.11" font-size="5.7" text-anchor="middle" fill="#ffffff">99.5%</text>
<text x="96.80" y="295.11" font-size="5.7" text-anchor="middle" fill="#262626">0.5%</text>
<text x="58.97" y="308.14" font-size="5.7" text-anchor="middle" fill="#ffffff">100.0%</text>
<text x="77.89" y="321.17" font-size="5.7" text-anchor="middle" fill="#ffffff">100.0%</text>
<text x="40.06" y="334.20" font-size="5.7" text-anchor="middle" fill="#262626">1.4%</text>
<text x="96.80" y="334.20" font-size="5.7" text-anchor="middle" fill="#ffffff">98.6%</text>
<text x="115.71" y="347.23" font-size="5.7" text-anchor="middle" fill="#ffffff">100.0%</text>
<text x="134.63" y="360.26" font-size="5.7" text-anchor="middle" fill="#ffffff">100.0%</text>
<text x="58.97" y="373.29" font-size="5.7" text-anchor="middle" fill="#262626">0.5%</text>
<text x="153.54" y="373.29" font-size="5.7" text-anchor="middle" fill="#ffffff">99.5%</text>
<text x="29.10" y="295.11" font-size="5.65" text-anchor="end" fill="#262626">Anger</text>
<text x="40.06" y="384.70" font-size="5.6" text-anchor="middle" fill="#262626">Anger</text>
<text x="29.10" y="308.14" font-size="5.65" text-anchor="end" fill="#262626">Disgust</text>
<text x="58.97" y="384.70" font-size="5.6" text-anchor="middle" fill="#262626">Disgust</text>
<text x="29.10" y="321.17" font-size="5.65" text-anchor="end" fill="#262626">Fear</text>
<text x="77.89" y="384.70" font-size="5.6" text-anchor="middle" fill="#262626">Fear</text>
<text x="29.10" y="334.20" font-size="5.65" text-anchor="end" fill="#262626">Happy</text>
<text x="96.80" y="384.70" font-size="5.6" text-anchor="middle" fill="#262626">Happy</text>
<text x="29.10" y="347.23" font-size="5.65" text-anchor="end" fill="#262626">Neutral</text>
<text x="115.71" y="384.70" font-size="5.6" text-anchor="middle" fill="#262626">Neutral</text>
<text x="29.10" y="360.26" font-size="5.65" text-anchor="end" fill="#262626">Sad</text>
<text x="134.63" y="384.70" font-size="5.6" text-anchor="middle" fill="#262626">Sad</text>
<text x="29.10" y="373.29" font-size="5.65" text-anchor="end" fill="#262626">Surprise</text>
<text x="153.54" y="384.70" font-size="5.6" text-anchor="middle" fill="#262626">Surprise</text>
<text x="125.20" y="283.90" font-size="6.2" text-anchor="middle" font-weight="bold" fill="#111111">Ensemble (Optimizable)</text>
<text x="124.80" y="391.45" font-size="5.85" text-anchor="middle" fill="#262626">Predicted Class</text>
<text transform="translate(8.3,332.10) rotate(-90)" font-size="6.15" text-anchor="middle" fill="#262626">True Class</text>
<text x="110.50" y="402.05" font-size="9.7" text-anchor="middle" fill="#1c4a35">(a)</text>
<rect x="201.00" y="286.50" width="18.90" height="13.03" fill="#fdf5f1"/>
<rect x="201.00" y="299.53" width="18.90" height="13.03" fill="#ffffff"/>
<rect x="201.00" y="312.56" width="18.90" height="13.03" fill="#ffffff"/>
<rect x="201.00" y="325.59" width="18.90" height="13.03" fill="#fdf5f1"/>
<rect x="201.00" y="338.61" width="18.90" height="13.03" fill="#ffffff"/>
<rect x="201.00" y="351.64" width="18.90" height="13.03" fill="#ffffff"/>
<rect x="201.00" y="364.67" width="18.90" height="13.03" fill="#fdf5f1"/>
<line x1="182.60" y1="286.50" x2="219.90" y2="286.50" stroke="#d0d0d0" stroke-width="0.6"/>
<line x1="182.60" y1="299.53" x2="219.90" y2="299.53" stroke="#d0d0d0" stroke-width="0.6"/>
<line x1="182.60" y1="312.56" x2="219.90" y2="312.56" stroke="#d0d0d0" stroke-width="0.6"/>
<line x1="182.60" y1="325.59" x2="219.90" y2="325.59" stroke="#d0d0d0" stroke-width="0.6"/>
<line x1="182.60" y1="338.61" x2="219.90" y2="338.61" stroke="#d0d0d0" stroke-width="0.6"/>
<line x1="182.60" y1="351.64" x2="219.90" y2="351.64" stroke="#d0d0d0" stroke-width="0.6"/>
<line x1="182.60" y1="364.67" x2="219.90" y2="364.67" stroke="#d0d0d0" stroke-width="0.6"/>
<line x1="182.60" y1="377.70" x2="219.90" y2="377.70" stroke="#d0d0d0" stroke-width="0.6"/>
<line x1="182.60" y1="286.50" x2="182.60" y2="377.70" stroke="#d0d0d0" stroke-width="0.6"/>
<line x1="201.00" y1="286.50" x2="201.00" y2="377.70" stroke="#d0d0d0" stroke-width="0.6"/>
<line x1="219.90" y1="286.50" x2="219.90" y2="377.70" stroke="#d0d0d0" stroke-width="0.6"/>
<rect x="182.30" y="286.20" width="19.00" height="91.80" fill="#0072bd"/>
<line x1="182.60" y1="299.53" x2="201.00" y2="299.53" stroke="#0a67a8" stroke-width="0.4"/>
<line x1="182.60" y1="312.56" x2="201.00" y2="312.56" stroke="#0a67a8" stroke-width="0.4"/>
<line x1="182.60" y1="325.59" x2="201.00" y2="325.59" stroke="#0a67a8" stroke-width="0.4"/>
<line x1="182.60" y1="338.61" x2="201.00" y2="338.61" stroke="#0a67a8" stroke-width="0.4"/>
<line x1="182.60" y1="351.64" x2="201.00" y2="351.64" stroke="#0a67a8" stroke-width="0.4"/>
<line x1="182.60" y1="364.67" x2="201.00" y2="364.67" stroke="#0a67a8" stroke-width="0.4"/>
<rect x="201.00" y="286.50" width="18.90" height="13.03" fill="none" stroke="#e8d8d0" stroke-width="0.5"/>
<rect x="201.00" y="325.59" width="18.90" height="13.03" fill="none" stroke="#e8d8d0" stroke-width="0.5"/>
<rect x="201.00" y="364.67" width="18.90" height="13.03" fill="none" stroke="#e8d8d0" stroke-width="0.5"/>
<text x="191.80" y="295.11" font-size="5.7" text-anchor="middle" fill="#ffffff">99.5%</text>
<text x="210.45" y="295.11" font-size="5.7" text-anchor="middle" fill="#262626">0.5%</text>
<text x="191.80" y="308.14" font-size="5.7" text-anchor="middle" fill="#ffffff">100.0%</text>
<text x="191.80" y="321.17" font-size="5.7" text-anchor="middle" fill="#ffffff">100.0%</text>
<text x="191.80" y="334.20" font-size="5.7" text-anchor="middle" fill="#ffffff">98.6%</text>
<text x="210.45" y="334.20" font-size="5.7" text-anchor="middle" fill="#262626">1.4%</text>
<text x="191.80" y="347.23" font-size="5.7" text-anchor="middle" fill="#ffffff">100.0%</text>
<text x="191.80" y="360.26" font-size="5.7" text-anchor="middle" fill="#ffffff">100.0%</text>
<text x="191.80" y="373.29" font-size="5.7" text-anchor="middle" fill="#ffffff">99.5%</text>
<text x="210.45" y="373.29" font-size="5.7" text-anchor="middle" fill="#262626">0.5%</text>
<text x="191.80" y="380.30" font-size="2.1" text-anchor="middle" fill="#777777">TPR</text>
<text x="210.45" y="380.30" font-size="2.1" text-anchor="middle" fill="#777777">FNR</text>
<rect x="253.10" y="285.40" width="190.20" height="91.60" fill="#ffffff"/>
<polyline points="265.83,367.99 272.17,367.99 278.51,291.31 284.85,323.95 291.19,366.87 297.53,367.85 303.87,369.68 310.21,369.68 316.55,369.96 322.89,369.96 329.23,369.96 335.57,371.93 341.91,370.10 348.25,370.10 354.59,371.93 360.93,371.93 367.27,371.93 373.61,371.93 379.95,370.10 386.29,370.10 392.63,370.10 398.97,370.10 405.31,370.10 411.65,370.10 417.99,370.10 424.33,370.10 430.67,370.10 437.01,370.10" fill="none" stroke="#77ac30" stroke-width="1.0" stroke-linejoin="round"/>
<circle cx="265.83" cy="367.99" r="0.85" fill="#77ac30"/>
<circle cx="272.17" cy="367.99" r="0.85" fill="#77ac30"/>
<circle cx="278.51" cy="291.31" r="0.85" fill="#77ac30"/>
<circle cx="284.85" cy="323.95" r="0.85" fill="#77ac30"/>
<circle cx="291.19" cy="366.87" r="0.85" fill="#77ac30"/>
<circle cx="297.53" cy="367.85" r="0.85" fill="#77ac30"/>
<circle cx="303.87" cy="369.68" r="0.85" fill="#77ac30"/>
<circle cx="310.21" cy="369.68" r="0.85" fill="#77ac30"/>
<circle cx="316.55" cy="369.96" r="0.85" fill="#77ac30"/>
<circle cx="322.89" cy="369.96" r="0.85" fill="#77ac30"/>
<circle cx="329.23" cy="369.96" r="0.85" fill="#77ac30"/>
<circle cx="335.57" cy="371.93" r="0.85" fill="#77ac30"/>
<circle cx="341.91" cy="370.10" r="0.85" fill="#77ac30"/>
<circle cx="348.25" cy="370.10" r="0.85" fill="#77ac30"/>
<circle cx="354.59" cy="371.93" r="0.85" fill="#77ac30"/>
<circle cx="360.93" cy="371.93" r="0.85" fill="#77ac30"/>
<circle cx="367.27" cy="371.93" r="0.85" fill="#77ac30"/>
<circle cx="373.61" cy="371.93" r="0.85" fill="#77ac30"/>
<circle cx="379.95" cy="370.10" r="0.85" fill="#77ac30"/>
<circle cx="386.29" cy="370.10" r="0.85" fill="#77ac30"/>
<circle cx="392.63" cy="370.10" r="0.85" fill="#77ac30"/>
<circle cx="398.97" cy="370.10" r="0.85" fill="#77ac30"/>
<circle cx="405.31" cy="370.10" r="0.85" fill="#77ac30"/>
<circle cx="411.65" cy="370.10" r="0.85" fill="#77ac30"/>
<circle cx="417.99" cy="370.10" r="0.85" fill="#77ac30"/>
<circle cx="424.33" cy="370.10" r="0.85" fill="#77ac30"/>
<circle cx="430.67" cy="370.10" r="0.85" fill="#77ac30"/>
<circle cx="437.01" cy="370.10" r="0.85" fill="#77ac30"/>
<polyline points="272.17,367.99 278.51,367.99 284.85,367.99 291.19,367.99 297.53,367.99 303.87,369.68 310.21,369.68 316.55,369.96 322.89,369.96 329.23,369.96 335.57,372.07 341.91,372.07 348.25,372.07 354.59,372.07 360.93,372.07 367.27,372.07 373.61,372.07 379.95,372.07 386.29,372.07 392.63,372.07 398.97,372.07 405.31,372.07 411.65,372.07 417.99,372.07 424.33,372.07 430.67,372.07 437.01,372.07" fill="none" stroke="#0072bd" stroke-width="0.9" stroke-linejoin="round"/>
<circle cx="272.17" cy="367.99" r="1.05" fill="#0072bd"/>
<circle cx="278.51" cy="367.99" r="1.05" fill="#0072bd"/>
<circle cx="284.85" cy="367.99" r="1.05" fill="#0072bd"/>
<circle cx="291.19" cy="367.99" r="1.05" fill="#0072bd"/>
<circle cx="297.53" cy="367.99" r="1.05" fill="#0072bd"/>
<circle cx="303.87" cy="369.68" r="1.05" fill="#0072bd"/>
<circle cx="310.21" cy="369.68" r="1.05" fill="#0072bd"/>
<circle cx="316.55" cy="369.96" r="1.05" fill="#0072bd"/>
<circle cx="322.89" cy="369.96" r="1.05" fill="#0072bd"/>
<circle cx="329.23" cy="369.96" r="1.05" fill="#0072bd"/>
<circle cx="335.57" cy="372.07" r="1.05" fill="#0072bd"/>
<circle cx="341.91" cy="372.07" r="1.05" fill="#0072bd"/>
<circle cx="348.25" cy="372.07" r="1.05" fill="#0072bd"/>
<circle cx="354.59" cy="372.07" r="1.05" fill="#0072bd"/>
<circle cx="360.93" cy="372.07" r="1.05" fill="#0072bd"/>
<circle cx="367.27" cy="372.07" r="1.05" fill="#0072bd"/>
<circle cx="373.61" cy="372.07" r="1.05" fill="#0072bd"/>
<circle cx="379.95" cy="372.07" r="1.05" fill="#0072bd"/>
<circle cx="386.29" cy="372.07" r="1.05" fill="#0072bd"/>
<circle cx="392.63" cy="372.07" r="1.05" fill="#0072bd"/>
<circle cx="398.97" cy="372.07" r="1.05" fill="#0072bd"/>
<circle cx="405.31" cy="372.07" r="1.05" fill="#0072bd"/>
<circle cx="411.65" cy="372.07" r="1.05" fill="#0072bd"/>
<circle cx="417.99" cy="372.07" r="1.05" fill="#0072bd"/>
<circle cx="424.33" cy="372.07" r="1.05" fill="#0072bd"/>
<circle cx="430.67" cy="372.07" r="1.05" fill="#0072bd"/>
<circle cx="437.01" cy="372.07" r="1.05" fill="#0072bd"/>
<circle cx="335.57" cy="372.07" r="0.9" fill="#edb120"/>
<rect x="309.31" y="368.78" width="1.80" height="1.80" fill="#d95319"/>
<rect x="253.10" y="285.40" width="190.20" height="91.60" fill="none" stroke="#303030" stroke-width="0.9"/>
<line x1="278.51" y1="377.00" x2="278.51" y2="374.80" stroke="#262626" stroke-width="0.7"/>
<line x1="278.51" y1="285.40" x2="278.51" y2="287.60" stroke="#262626" stroke-width="0.7"/>
<text x="278.51" y="384.00" font-size="5.7" text-anchor="middle" fill="#262626">5</text>
<line x1="310.21" y1="377.00" x2="310.21" y2="374.80" stroke="#262626" stroke-width="0.7"/>
<line x1="310.21" y1="285.40" x2="310.21" y2="287.60" stroke="#262626" stroke-width="0.7"/>
<text x="310.21" y="384.00" font-size="5.7" text-anchor="middle" fill="#262626">10</text>
<line x1="341.91" y1="377.00" x2="341.91" y2="374.80" stroke="#262626" stroke-width="0.7"/>
<line x1="341.91" y1="285.40" x2="341.91" y2="287.60" stroke="#262626" stroke-width="0.7"/>
<text x="341.91" y="384.00" font-size="5.7" text-anchor="middle" fill="#262626">15</text>
<line x1="373.61" y1="377.00" x2="373.61" y2="374.80" stroke="#262626" stroke-width="0.7"/>
<line x1="373.61" y1="285.40" x2="373.61" y2="287.60" stroke="#262626" stroke-width="0.7"/>
<text x="373.61" y="384.00" font-size="5.7" text-anchor="middle" fill="#262626">20</text>
<line x1="405.31" y1="377.00" x2="405.31" y2="374.80" stroke="#262626" stroke-width="0.7"/>
<line x1="405.31" y1="285.40" x2="405.31" y2="287.60" stroke="#262626" stroke-width="0.7"/>
<text x="405.31" y="384.00" font-size="5.7" text-anchor="middle" fill="#262626">25</text>
<line x1="437.01" y1="377.00" x2="437.01" y2="374.80" stroke="#262626" stroke-width="0.7"/>
<line x1="437.01" y1="285.40" x2="437.01" y2="287.60" stroke="#262626" stroke-width="0.7"/>
<text x="437.01" y="384.00" font-size="5.7" text-anchor="middle" fill="#262626">30</text>
<line x1="253.10" y1="288.78" x2="255.30" y2="288.78" stroke="#262626" stroke-width="0.7"/>
<line x1="443.30" y1="288.78" x2="441.10" y2="288.78" stroke="#262626" stroke-width="0.7"/>
<text x="251.20" y="290.68" font-size="5.7" text-anchor="end" fill="#262626">0.06</text>
<line x1="253.10" y1="302.85" x2="255.30" y2="302.85" stroke="#262626" stroke-width="0.7"/>
<line x1="443.30" y1="302.85" x2="441.10" y2="302.85" stroke="#262626" stroke-width="0.7"/>
<text x="251.20" y="304.75" font-size="5.7" text-anchor="end" fill="#262626">0.05</text>
<line x1="253.10" y1="316.92" x2="255.30" y2="316.92" stroke="#262626" stroke-width="0.7"/>
<line x1="443.30" y1="316.92" x2="441.10" y2="316.92" stroke="#262626" stroke-width="0.7"/>
<text x="251.20" y="318.82" font-size="5.7" text-anchor="end" fill="#262626">0.04</text>
<line x1="253.10" y1="330.99" x2="255.30" y2="330.99" stroke="#262626" stroke-width="0.7"/>
<line x1="443.30" y1="330.99" x2="441.10" y2="330.99" stroke="#262626" stroke-width="0.7"/>
<text x="251.20" y="332.89" font-size="5.7" text-anchor="end" fill="#262626">0.03</text>
<line x1="253.10" y1="345.06" x2="255.30" y2="345.06" stroke="#262626" stroke-width="0.7"/>
<line x1="443.30" y1="345.06" x2="441.10" y2="345.06" stroke="#262626" stroke-width="0.7"/>
<text x="251.20" y="346.96" font-size="5.7" text-anchor="end" fill="#262626">0.02</text>
<line x1="253.10" y1="359.13" x2="255.30" y2="359.13" stroke="#262626" stroke-width="0.7"/>
<line x1="443.30" y1="359.13" x2="441.10" y2="359.13" stroke="#262626" stroke-width="0.7"/>
<text x="251.20" y="361.03" font-size="5.7" text-anchor="end" fill="#262626">0.01</text>
<line x1="253.10" y1="373.20" x2="255.30" y2="373.20" stroke="#262626" stroke-width="0.7"/>
<line x1="443.30" y1="373.20" x2="441.10" y2="373.20" stroke="#262626" stroke-width="0.7"/>
<text x="251.20" y="375.10" font-size="5.7" text-anchor="end" fill="#262626">0</text>
<text transform="translate(238.50,331.20) rotate(-90)" font-size="6.2" text-anchor="middle" fill="#262626">Minimum classification error</text>
<text x="348.20" y="282.30" font-size="6.2" text-anchor="middle" font-weight="bold" fill="#111111">Ensemble (Optimizable)</text>
<text x="348.10" y="391.80" font-size="6.0" text-anchor="middle" fill="#262626">Iteration</text>
<text x="336.80" y="401.10" font-size="9.7" text-anchor="middle" fill="#1c4a35">(b)</text>
<rect x="333.30" y="286.90" width="108.40" height="27.70" fill="#ffffff" stroke="#262626" stroke-width="0.6"/>
<line x1="334.50" y1="291.20" x2="340.90" y2="291.20" stroke="#77ac30" stroke-width="0.8"/>
<circle cx="337.70" cy="291.20" r="0.75" fill="#77ac30"/>
<text x="342.20" y="293.10" font-size="5.75" text-anchor="start" font-weight="bold" fill="#111111">Estimated minimum classification error</text>
<line x1="334.50" y1="297.90" x2="340.90" y2="297.90" stroke="#0072bd" stroke-width="0.8"/>
<circle cx="337.70" cy="297.90" r="0.95" fill="#0072bd"/>
<text x="342.20" y="299.80" font-size="5.75" text-anchor="start" font-weight="bold" fill="#111111">Observed minimum classification error</text>
<rect x="336.80" y="303.50" width="1.80" height="1.80" fill="#d95319"/>
<text x="342.20" y="306.30" font-size="5.75" text-anchor="start" font-weight="bold" fill="#111111">Bestpoint hyperparameters</text>
<circle cx="337.70" cy="311.00" r="0.9" fill="#edb120"/>
<text x="342.20" y="312.90" font-size="5.75" text-anchor="start" font-weight="bold" fill="#111111">Minimum error hyperparameters</text>
<text x="334.60" y="323.20" font-size="5.8" text-anchor="start" font-weight="bold" fill="#111111">Optimization Results</text>
<text x="334.60" y="329.80" font-size="5.8" text-anchor="start" fill="#262626">Ensemble method: <tspan font-weight="bold" fill="#111111">Bag</tspan></text>
<text x="334.60" y="336.40" font-size="5.8" text-anchor="start" fill="#262626">Number of learners: <tspan font-weight="bold" fill="#111111">10</tspan></text>
<text x="334.60" y="342.90" font-size="5.8" text-anchor="start" fill="#262626">Maximum number of splits: <tspan font-weight="bold" fill="#111111">1368</tspan></text>
<text x="334.60" y="349.50" font-size="5.8" text-anchor="start" fill="#262626">Number of predictors to sample: <tspan font-weight="bold" fill="#111111">10</tspan></text>
<text x="226.10" y="404.55" font-size="9.4" text-anchor="middle" font-weight="bold" fill="#1c4a35">(C)</text>
<rect x="31.30" y="419.80" width="134.00" height="92.20" fill="#ffffff"/>
<rect x="127.01" y="446.14" width="19.14" height="13.17" fill="#fdf5f1"/>
<rect x="31.30" y="459.31" width="19.14" height="13.17" fill="#fdf5f1"/>
<rect x="69.59" y="459.31" width="19.14" height="13.17" fill="#fdf5f1"/>
<rect x="69.59" y="485.66" width="19.14" height="13.17" fill="#fdf5f1"/>
<rect x="50.44" y="498.83" width="19.14" height="13.17" fill="#fdf5f1"/>
<rect x="107.87" y="498.83" width="19.14" height="13.17" fill="#fdf5f1"/>
<line x1="31.30" y1="419.80" x2="31.30" y2="512.00" stroke="#d0d0d0" stroke-width="0.6"/>
<line x1="31.30" y1="419.80" x2="165.30" y2="419.80" stroke="#d0d0d0" stroke-width="0.6"/>
<line x1="50.44" y1="419.80" x2="50.44" y2="512.00" stroke="#d0d0d0" stroke-width="0.6"/>
<line x1="31.30" y1="432.97" x2="165.30" y2="432.97" stroke="#d0d0d0" stroke-width="0.6"/>
<line x1="69.59" y1="419.80" x2="69.59" y2="512.00" stroke="#d0d0d0" stroke-width="0.6"/>
<line x1="31.30" y1="446.14" x2="165.30" y2="446.14" stroke="#d0d0d0" stroke-width="0.6"/>
<line x1="88.73" y1="419.80" x2="88.73" y2="512.00" stroke="#d0d0d0" stroke-width="0.6"/>
<line x1="31.30" y1="459.31" x2="165.30" y2="459.31" stroke="#d0d0d0" stroke-width="0.6"/>
<line x1="107.87" y1="419.80" x2="107.87" y2="512.00" stroke="#d0d0d0" stroke-width="0.6"/>
<line x1="31.30" y1="472.49" x2="165.30" y2="472.49" stroke="#d0d0d0" stroke-width="0.6"/>
<line x1="127.01" y1="419.80" x2="127.01" y2="512.00" stroke="#d0d0d0" stroke-width="0.6"/>
<line x1="31.30" y1="485.66" x2="165.30" y2="485.66" stroke="#d0d0d0" stroke-width="0.6"/>
<line x1="146.16" y1="419.80" x2="146.16" y2="512.00" stroke="#d0d0d0" stroke-width="0.6"/>
<line x1="31.30" y1="498.83" x2="165.30" y2="498.83" stroke="#d0d0d0" stroke-width="0.6"/>
<line x1="165.30" y1="419.80" x2="165.30" y2="512.00" stroke="#d0d0d0" stroke-width="0.6"/>
<line x1="31.30" y1="512.00" x2="165.30" y2="512.00" stroke="#d0d0d0" stroke-width="0.6"/>
<rect x="31.00" y="419.50" width="19.74" height="13.77" fill="#0072bd"/>
<rect x="50.14" y="432.67" width="19.74" height="13.77" fill="#0072bd"/>
<rect x="69.29" y="445.84" width="19.74" height="13.77" fill="#0072bd"/>
<rect x="88.43" y="459.01" width="19.74" height="13.77" fill="#0072bd"/>
<rect x="107.57" y="472.19" width="19.74" height="13.77" fill="#0072bd"/>
<rect x="126.71" y="485.36" width="19.74" height="13.77" fill="#0072bd"/>
<rect x="145.86" y="498.53" width="19.74" height="13.77" fill="#0072bd"/>
<rect x="127.01" y="446.14" width="19.14" height="13.17" fill="none" stroke="#e8d8d0" stroke-width="0.5"/>
<rect x="31.30" y="459.31" width="19.14" height="13.17" fill="none" stroke="#e8d8d0" stroke-width="0.5"/>
<rect x="69.59" y="459.31" width="19.14" height="13.17" fill="none" stroke="#e8d8d0" stroke-width="0.5"/>
<rect x="69.59" y="485.66" width="19.14" height="13.17" fill="none" stroke="#e8d8d0" stroke-width="0.5"/>
<rect x="50.44" y="498.83" width="19.14" height="13.17" fill="none" stroke="#e8d8d0" stroke-width="0.5"/>
<rect x="107.87" y="498.83" width="19.14" height="13.17" fill="none" stroke="#e8d8d0" stroke-width="0.5"/>
<text x="40.87" y="428.49" font-size="5.7" text-anchor="middle" fill="#ffffff">100.0%</text>
<text x="60.01" y="441.66" font-size="5.7" text-anchor="middle" fill="#ffffff">100.0%</text>
<text x="79.16" y="454.83" font-size="5.7" text-anchor="middle" fill="#ffffff">98.8%</text>
<text x="136.59" y="454.83" font-size="5.7" text-anchor="middle" fill="#262626">1.2%</text>
<text x="40.87" y="468.00" font-size="5.7" text-anchor="middle" fill="#262626">0.3%</text>
<text x="79.16" y="468.00" font-size="5.7" text-anchor="middle" fill="#262626">0.2%</text>
<text x="98.30" y="468.00" font-size="5.7" text-anchor="middle" fill="#ffffff">99.5%</text>
<text x="117.44" y="481.17" font-size="5.7" text-anchor="middle" fill="#ffffff">100.0%</text>
<text x="79.16" y="494.34" font-size="5.7" text-anchor="middle" fill="#262626">1.6%</text>
<text x="136.59" y="494.34" font-size="5.7" text-anchor="middle" fill="#ffffff">98.4%</text>
<text x="60.01" y="507.51" font-size="5.7" text-anchor="middle" fill="#262626">0.2%</text>
<text x="117.44" y="507.51" font-size="5.7" text-anchor="middle" fill="#262626">0.5%</text>
<text x="155.73" y="507.51" font-size="5.7" text-anchor="middle" fill="#ffffff">99.3%</text>
<text x="29.80" y="428.49" font-size="5.65" text-anchor="end" fill="#262626">Anger</text>
<text x="40.87" y="519.00" font-size="5.6" text-anchor="middle" fill="#262626">Anger</text>
<text x="29.80" y="441.66" font-size="5.65" text-anchor="end" fill="#262626">Disgust</text>
<text x="60.01" y="519.00" font-size="5.6" text-anchor="middle" fill="#262626">Disgust</text>
<text x="29.80" y="454.83" font-size="5.65" text-anchor="end" fill="#262626">Fear</text>
<text x="79.16" y="519.00" font-size="5.6" text-anchor="middle" fill="#262626">Fear</text>
<text x="29.80" y="468.00" font-size="5.65" text-anchor="end" fill="#262626">Happy</text>
<text x="98.30" y="519.00" font-size="5.6" text-anchor="middle" fill="#262626">Happy</text>
<text x="29.80" y="481.17" font-size="5.65" text-anchor="end" fill="#262626">Neutral</text>
<text x="117.44" y="519.00" font-size="5.6" text-anchor="middle" fill="#262626">Neutral</text>
<text x="29.80" y="494.34" font-size="5.65" text-anchor="end" fill="#262626">Sad</text>
<text x="136.59" y="519.00" font-size="5.6" text-anchor="middle" fill="#262626">Sad</text>
<text x="29.80" y="507.51" font-size="5.65" text-anchor="end" fill="#262626">Surprise</text>
<text x="155.73" y="519.00" font-size="5.6" text-anchor="middle" fill="#262626">Surprise</text>
<text x="127.00" y="416.90" font-size="6.2" text-anchor="middle" font-weight="bold" fill="#111111">Ensemble (Optimizable)</text>
<text x="126.60" y="526.10" font-size="5.85" text-anchor="middle" fill="#262626">Predicted Class</text>
<text transform="translate(8.3,465.90) rotate(-90)" font-size="6.15" text-anchor="middle" fill="#262626">True Class</text>
<text x="111.40" y="540.80" font-size="9.7" text-anchor="middle" fill="#1c4a35">(a)</text>
<rect x="203.20" y="419.80" width="19.30" height="13.17" fill="#ffffff"/>
<rect x="203.20" y="432.97" width="19.30" height="13.17" fill="#ffffff"/>
<rect x="203.20" y="446.14" width="19.30" height="13.17" fill="#fdf5f1"/>
<rect x="203.20" y="459.31" width="19.30" height="13.17" fill="#fdf5f1"/>
<rect x="203.20" y="472.49" width="19.30" height="13.17" fill="#ffffff"/>
<rect x="203.20" y="485.66" width="19.30" height="13.17" fill="#fdf5f1"/>
<rect x="203.20" y="498.83" width="19.30" height="13.17" fill="#fdf5f1"/>
<line x1="184.40" y1="419.80" x2="222.50" y2="419.80" stroke="#d0d0d0" stroke-width="0.6"/>
<line x1="184.40" y1="432.97" x2="222.50" y2="432.97" stroke="#d0d0d0" stroke-width="0.6"/>
<line x1="184.40" y1="446.14" x2="222.50" y2="446.14" stroke="#d0d0d0" stroke-width="0.6"/>
<line x1="184.40" y1="459.31" x2="222.50" y2="459.31" stroke="#d0d0d0" stroke-width="0.6"/>
<line x1="184.40" y1="472.49" x2="222.50" y2="472.49" stroke="#d0d0d0" stroke-width="0.6"/>
<line x1="184.40" y1="485.66" x2="222.50" y2="485.66" stroke="#d0d0d0" stroke-width="0.6"/>
<line x1="184.40" y1="498.83" x2="222.50" y2="498.83" stroke="#d0d0d0" stroke-width="0.6"/>
<line x1="184.40" y1="512.00" x2="222.50" y2="512.00" stroke="#d0d0d0" stroke-width="0.6"/>
<line x1="184.40" y1="419.80" x2="184.40" y2="512.00" stroke="#d0d0d0" stroke-width="0.6"/>
<line x1="203.20" y1="419.80" x2="203.20" y2="512.00" stroke="#d0d0d0" stroke-width="0.6"/>
<line x1="222.50" y1="419.80" x2="222.50" y2="512.00" stroke="#d0d0d0" stroke-width="0.6"/>
<rect x="184.10" y="419.50" width="19.40" height="92.80" fill="#0072bd"/>
<line x1="184.40" y1="432.97" x2="203.20" y2="432.97" stroke="#0a67a8" stroke-width="0.4"/>
<line x1="184.40" y1="446.14" x2="203.20" y2="446.14" stroke="#0a67a8" stroke-width="0.4"/>
<line x1="184.40" y1="459.31" x2="203.20" y2="459.31" stroke="#0a67a8" stroke-width="0.4"/>
<line x1="184.40" y1="472.49" x2="203.20" y2="472.49" stroke="#0a67a8" stroke-width="0.4"/>
<line x1="184.40" y1="485.66" x2="203.20" y2="485.66" stroke="#0a67a8" stroke-width="0.4"/>
<line x1="184.40" y1="498.83" x2="203.20" y2="498.83" stroke="#0a67a8" stroke-width="0.4"/>
<rect x="203.20" y="446.14" width="19.30" height="13.17" fill="none" stroke="#e8d8d0" stroke-width="0.5"/>
<rect x="203.20" y="459.31" width="19.30" height="13.17" fill="none" stroke="#e8d8d0" stroke-width="0.5"/>
<rect x="203.20" y="485.66" width="19.30" height="13.17" fill="none" stroke="#e8d8d0" stroke-width="0.5"/>
<rect x="203.20" y="498.83" width="19.30" height="13.17" fill="none" stroke="#e8d8d0" stroke-width="0.5"/>
<text x="193.80" y="428.49" font-size="5.7" text-anchor="middle" fill="#ffffff">100.0%</text>
<text x="193.80" y="441.66" font-size="5.7" text-anchor="middle" fill="#ffffff">100.0%</text>
<text x="193.80" y="454.83" font-size="5.7" text-anchor="middle" fill="#ffffff">98.8%</text>
<text x="212.85" y="454.83" font-size="5.7" text-anchor="middle" fill="#262626">1.2%</text>
<text x="193.80" y="468.00" font-size="5.7" text-anchor="middle" fill="#ffffff">99.5%</text>
<text x="212.85" y="468.00" font-size="5.7" text-anchor="middle" fill="#262626">0.5%</text>
<text x="193.80" y="481.17" font-size="5.7" text-anchor="middle" fill="#ffffff">100.0%</text>
<text x="193.80" y="494.34" font-size="5.7" text-anchor="middle" fill="#ffffff">98.4%</text>
<text x="212.85" y="494.34" font-size="5.7" text-anchor="middle" fill="#262626">1.6%</text>
<text x="193.80" y="507.51" font-size="5.7" text-anchor="middle" fill="#ffffff">99.3%</text>
<text x="212.85" y="507.51" font-size="5.7" text-anchor="middle" fill="#262626">0.7%</text>
<text x="193.80" y="514.60" font-size="2.1" text-anchor="middle" fill="#777777">TPR</text>
<text x="212.85" y="514.60" font-size="2.1" text-anchor="middle" fill="#777777">FNR</text>
<rect x="252.90" y="419.40" width="189.85" height="91.90" fill="#ffffff"/>
<polyline points="258.95,500.14 265.30,429.20 271.65,474.36 278.00,473.69 284.35,473.69 290.70,497.62 297.05,501.49 303.40,501.49 309.75,503.34 316.10,503.34 322.45,503.34 328.80,503.34 335.15,503.34 341.50,506.38 347.85,506.38 354.20,506.38 360.55,506.38 366.90,506.38 373.25,506.38 379.60,506.38 385.95,506.38 392.30,506.38 398.65,506.38 405.00,506.38 411.35,506.38 417.70,506.38 424.05,506.38 430.40,506.38 436.75,506.38" fill="none" stroke="#77ac30" stroke-width="1.0" stroke-linejoin="round"/>
<circle cx="258.95" cy="500.14" r="0.85" fill="#77ac30"/>
<circle cx="265.30" cy="429.20" r="0.85" fill="#77ac30"/>
<circle cx="271.65" cy="474.36" r="0.85" fill="#77ac30"/>
<circle cx="278.00" cy="473.69" r="0.85" fill="#77ac30"/>
<circle cx="284.35" cy="473.69" r="0.85" fill="#77ac30"/>
<circle cx="290.70" cy="497.62" r="0.85" fill="#77ac30"/>
<circle cx="297.05" cy="501.49" r="0.85" fill="#77ac30"/>
<circle cx="303.40" cy="501.49" r="0.85" fill="#77ac30"/>
<circle cx="309.75" cy="503.34" r="0.85" fill="#77ac30"/>
<circle cx="316.10" cy="503.34" r="0.85" fill="#77ac30"/>
<circle cx="322.45" cy="503.34" r="0.85" fill="#77ac30"/>
<circle cx="328.80" cy="503.34" r="0.85" fill="#77ac30"/>
<circle cx="335.15" cy="503.34" r="0.85" fill="#77ac30"/>
<circle cx="341.50" cy="506.38" r="0.85" fill="#77ac30"/>
<circle cx="347.85" cy="506.38" r="0.85" fill="#77ac30"/>
<circle cx="354.20" cy="506.38" r="0.85" fill="#77ac30"/>
<circle cx="360.55" cy="506.38" r="0.85" fill="#77ac30"/>
<circle cx="366.90" cy="506.38" r="0.85" fill="#77ac30"/>
<circle cx="373.25" cy="506.38" r="0.85" fill="#77ac30"/>
<circle cx="379.60" cy="506.38" r="0.85" fill="#77ac30"/>
<circle cx="385.95" cy="506.38" r="0.85" fill="#77ac30"/>
<circle cx="392.30" cy="506.38" r="0.85" fill="#77ac30"/>
<circle cx="398.65" cy="506.38" r="0.85" fill="#77ac30"/>
<circle cx="405.00" cy="506.38" r="0.85" fill="#77ac30"/>
<circle cx="411.35" cy="506.38" r="0.85" fill="#77ac30"/>
<circle cx="417.70" cy="506.38" r="0.85" fill="#77ac30"/>
<circle cx="424.05" cy="506.38" r="0.85" fill="#77ac30"/>
<circle cx="430.40" cy="506.38" r="0.85" fill="#77ac30"/>
<circle cx="436.75" cy="506.38" r="0.85" fill="#77ac30"/>
<polyline points="265.30,500.14 271.65,502.16 278.00,502.16 284.35,502.16 290.70,502.16 297.05,503.51 303.40,503.51 309.75,503.51 316.10,503.51 322.45,503.51 328.80,503.51 335.15,503.51 341.50,506.38 347.85,506.38 354.20,506.38 360.55,506.38 366.90,506.38 373.25,506.38 379.60,506.38 385.95,506.38 392.30,506.38 398.65,506.38 405.00,506.38 411.35,506.38 417.70,506.38 424.05,506.38 430.40,506.38 436.75,506.38" fill="none" stroke="#0072bd" stroke-width="0.9" stroke-linejoin="round"/>
<circle cx="265.30" cy="500.14" r="1.05" fill="#0072bd"/>
<circle cx="271.65" cy="502.16" r="1.05" fill="#0072bd"/>
<circle cx="278.00" cy="502.16" r="1.05" fill="#0072bd"/>
<circle cx="284.35" cy="502.16" r="1.05" fill="#0072bd"/>
<circle cx="290.70" cy="502.16" r="1.05" fill="#0072bd"/>
<circle cx="297.05" cy="503.51" r="1.05" fill="#0072bd"/>
<circle cx="303.40" cy="503.51" r="1.05" fill="#0072bd"/>
<circle cx="309.75" cy="503.51" r="1.05" fill="#0072bd"/>
<circle cx="316.10" cy="503.51" r="1.05" fill="#0072bd"/>
<circle cx="322.45" cy="503.51" r="1.05" fill="#0072bd"/>
<circle cx="328.80" cy="503.51" r="1.05" fill="#0072bd"/>
<circle cx="335.15" cy="503.51" r="1.05" fill="#0072bd"/>
<circle cx="341.50" cy="506.38" r="1.05" fill="#0072bd"/>
<circle cx="347.85" cy="506.38" r="1.05" fill="#0072bd"/>
<circle cx="354.20" cy="506.38" r="1.05" fill="#0072bd"/>
<circle cx="360.55" cy="506.38" r="1.05" fill="#0072bd"/>
<circle cx="366.90" cy="506.38" r="1.05" fill="#0072bd"/>
<circle cx="373.25" cy="506.38" r="1.05" fill="#0072bd"/>
<circle cx="379.60" cy="506.38" r="1.05" fill="#0072bd"/>
<circle cx="385.95" cy="506.38" r="1.05" fill="#0072bd"/>
<circle cx="392.30" cy="506.38" r="1.05" fill="#0072bd"/>
<circle cx="398.65" cy="506.38" r="1.05" fill="#0072bd"/>
<circle cx="405.00" cy="506.38" r="1.05" fill="#0072bd"/>
<circle cx="411.35" cy="506.38" r="1.05" fill="#0072bd"/>
<circle cx="417.70" cy="506.38" r="1.05" fill="#0072bd"/>
<circle cx="424.05" cy="506.38" r="1.05" fill="#0072bd"/>
<circle cx="430.40" cy="506.38" r="1.05" fill="#0072bd"/>
<circle cx="436.75" cy="506.38" r="1.05" fill="#0072bd"/>
<circle cx="341.50" cy="506.38" r="0.9" fill="#edb120"/>
<rect x="340.60" y="505.48" width="1.80" height="1.80" fill="#d95319"/>
<rect x="252.90" y="419.40" width="189.85" height="91.90" fill="none" stroke="#303030" stroke-width="0.9"/>
<line x1="278.00" y1="511.30" x2="278.00" y2="509.10" stroke="#262626" stroke-width="0.7"/>
<line x1="278.00" y1="419.40" x2="278.00" y2="421.60" stroke="#262626" stroke-width="0.7"/>
<text x="278.00" y="518.50" font-size="5.7" text-anchor="middle" fill="#262626">5</text>
<line x1="309.75" y1="511.30" x2="309.75" y2="509.10" stroke="#262626" stroke-width="0.7"/>
<line x1="309.75" y1="419.40" x2="309.75" y2="421.60" stroke="#262626" stroke-width="0.7"/>
<text x="309.75" y="518.50" font-size="5.7" text-anchor="middle" fill="#262626">10</text>
<line x1="341.50" y1="511.30" x2="341.50" y2="509.10" stroke="#262626" stroke-width="0.7"/>
<line x1="341.50" y1="419.40" x2="341.50" y2="421.60" stroke="#262626" stroke-width="0.7"/>
<text x="341.50" y="518.50" font-size="5.7" text-anchor="middle" fill="#262626">15</text>
<line x1="373.25" y1="511.30" x2="373.25" y2="509.10" stroke="#262626" stroke-width="0.7"/>
<line x1="373.25" y1="419.40" x2="373.25" y2="421.60" stroke="#262626" stroke-width="0.7"/>
<text x="373.25" y="518.50" font-size="5.7" text-anchor="middle" fill="#262626">20</text>
<line x1="405.00" y1="511.30" x2="405.00" y2="509.10" stroke="#262626" stroke-width="0.7"/>
<line x1="405.00" y1="419.40" x2="405.00" y2="421.60" stroke="#262626" stroke-width="0.7"/>
<text x="405.00" y="518.50" font-size="5.7" text-anchor="middle" fill="#262626">25</text>
<line x1="436.75" y1="511.30" x2="436.75" y2="509.10" stroke="#262626" stroke-width="0.7"/>
<line x1="436.75" y1="419.40" x2="436.75" y2="421.60" stroke="#262626" stroke-width="0.7"/>
<text x="436.75" y="518.50" font-size="5.7" text-anchor="middle" fill="#262626">30</text>
<line x1="252.90" y1="431.90" x2="255.10" y2="431.90" stroke="#262626" stroke-width="0.7"/>
<line x1="442.75" y1="431.90" x2="440.55" y2="431.90" stroke="#262626" stroke-width="0.7"/>
<text x="251.00" y="433.80" font-size="5.7" text-anchor="end" fill="#262626">0.05</text>
<line x1="252.90" y1="448.75" x2="255.10" y2="448.75" stroke="#262626" stroke-width="0.7"/>
<line x1="442.75" y1="448.75" x2="440.55" y2="448.75" stroke="#262626" stroke-width="0.7"/>
<text x="251.00" y="450.65" font-size="5.7" text-anchor="end" fill="#262626">0.04</text>
<line x1="252.90" y1="465.60" x2="255.10" y2="465.60" stroke="#262626" stroke-width="0.7"/>
<line x1="442.75" y1="465.60" x2="440.55" y2="465.60" stroke="#262626" stroke-width="0.7"/>
<text x="251.00" y="467.50" font-size="5.7" text-anchor="end" fill="#262626">0.03</text>
<line x1="252.90" y1="482.45" x2="255.10" y2="482.45" stroke="#262626" stroke-width="0.7"/>
<line x1="442.75" y1="482.45" x2="440.55" y2="482.45" stroke="#262626" stroke-width="0.7"/>
<text x="251.00" y="484.35" font-size="5.7" text-anchor="end" fill="#262626">0.02</text>
<line x1="252.90" y1="499.30" x2="255.10" y2="499.30" stroke="#262626" stroke-width="0.7"/>
<line x1="442.75" y1="499.30" x2="440.55" y2="499.30" stroke="#262626" stroke-width="0.7"/>
<text x="251.00" y="501.20" font-size="5.7" text-anchor="end" fill="#262626">0.01</text>
<text transform="translate(238.50,465.35) rotate(-90)" font-size="6.2" text-anchor="middle" fill="#262626">Minimum classification error</text>
<text x="347.60" y="416.70" font-size="6.2" text-anchor="middle" font-weight="bold" fill="#111111">Ensemble (Optimizable)</text>
<text x="347.50" y="525.70" font-size="6.0" text-anchor="middle" fill="#262626">Iteration</text>
<text x="337.70" y="539.80" font-size="9.7" text-anchor="middle" fill="#1c4a35">(b)</text>
<rect x="333.30" y="421.50" width="107.90" height="27.70" fill="#ffffff" stroke="#262626" stroke-width="0.6"/>
<line x1="334.50" y1="425.60" x2="340.90" y2="425.60" stroke="#77ac30" stroke-width="0.8"/>
<circle cx="337.70" cy="425.60" r="0.75" fill="#77ac30"/>
<text x="342.20" y="427.50" font-size="5.75" text-anchor="start" font-weight="bold" fill="#111111">Estimated minimum classification error</text>
<line x1="334.50" y1="432.40" x2="340.90" y2="432.40" stroke="#0072bd" stroke-width="0.8"/>
<circle cx="337.70" cy="432.40" r="0.95" fill="#0072bd"/>
<text x="342.20" y="434.30" font-size="5.75" text-anchor="start" font-weight="bold" fill="#111111">Observed minimum classification error</text>
<rect x="336.80" y="438.20" width="1.80" height="1.80" fill="#d95319"/>
<text x="342.20" y="441.00" font-size="5.75" text-anchor="start" font-weight="bold" fill="#111111">Bestpoint hyperparameters</text>
<circle cx="337.70" cy="445.90" r="0.9" fill="#edb120"/>
<text x="342.20" y="447.80" font-size="5.75" text-anchor="start" font-weight="bold" fill="#111111">Minimum error hyperparameters</text>
<text x="334.70" y="457.80" font-size="5.8" text-anchor="start" font-weight="bold" fill="#111111">Optimization Results</text>
<text x="334.70" y="464.30" font-size="5.8" text-anchor="start" fill="#262626">Ensemble method: <tspan font-weight="bold" fill="#111111">AdaBoost</tspan></text>
<text x="334.70" y="470.70" font-size="5.8" text-anchor="start" fill="#262626">Number of learners: <tspan font-weight="bold" fill="#111111">10</tspan></text>
<text x="334.70" y="477.10" font-size="5.8" text-anchor="start" fill="#262626">Learning rate: <tspan font-weight="bold" fill="#111111">0.73168</tspan></text>
<text x="334.70" y="483.50" font-size="5.8" text-anchor="start" fill="#262626">Maximum number of splits: <tspan font-weight="bold" fill="#111111">64</tspan></text>
<text x="227.30" y="544.35" font-size="9.4" text-anchor="middle" font-weight="bold" fill="#1c4a35">(D)</text>
</svg>
</body></html>
